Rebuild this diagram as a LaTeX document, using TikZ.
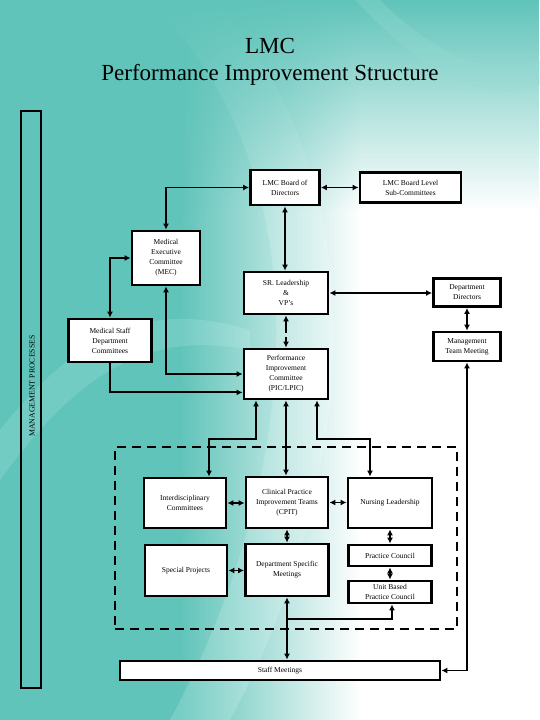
\documentclass[tikz,border=0pt]{standalone}
\usepackage{fontspec}
\setmainfont{Liberation Serif}
\usetikzlibrary{arrows.meta,calc,fadings}
\definecolor{tealbg}{RGB}{96,196,186}
\definecolor{teallight}{RGB}{150,220,212}
\tikzfading[name=fadeleft, left color=transparent!100, right color=transparent!0]
\tikzfading[name=fadedown, top color=transparent!0, bottom color=transparent!100]
\begin{document}
\begin{tikzpicture}[x=1pt,y=-1pt,
  box/.style={draw=black, line width=2.8pt, fill=white, align=center,
    font=\fontsize{7.5}{10}\selectfont, inner sep=1pt},
  con/.style={line width=1.9pt},
  dbl/.style={con, {Latex[length=6pt,width=6pt]}-{Latex[length=6pt,width=6pt]}},
  arr/.style={con, -{Latex[length=6pt,width=6pt]}},
  titlefont/.style={font=\fontsize{23}{27}\selectfont}]
\useasboundingbox (0,0) rectangle (540,720);
% background
\fill[tealbg] (0,0) rectangle (540,720);
\fill[teallight, opacity=0.45] (150,0) .. controls (330,180) and (300,480) .. (170,720) -- (230,720) .. controls (360,480) and (380,180) .. (215,0) -- cycle;
\fill[teallight, opacity=0.35] (0,430) .. controls (80,330) and (150,300) .. (250,330) -- (250,350) .. controls (150,330) and (80,370) .. (0,480) -- cycle;
\fill[teallight, opacity=0.35] (330,0) .. controls (420,120) and (500,140) .. (540,120) -- (540,150) .. controls (480,170) and (400,140) .. (300,0) -- cycle;
\fill[white, path fading=fadeleft] (180,0) rectangle (360,720);
\fill[white] (360,0) rectangle (540,720);
\fill[tealbg, path fading=fadedown] (0,0) rectangle (540,210);
\fill[teallight, opacity=0.3] (380,0) .. controls (440,60) and (500,80) .. (540,60) -- (540,85) .. controls (490,105) and (430,80) .. (355,0) -- cycle;
% title
\node[titlefont] (t1) at (270,46) {LMC};
\node[titlefont] (t2) at (270,75) {Performance Improvement Structure};
% side bar
\node[draw, line width=2.5pt, minimum width=20, minimum height=577, inner sep=0] (bar) at (31,399.5) {};
\node[rotate=90, font=\fontsize{7.8}{9}\selectfont] (mp) at (32,386) {MANAGEMENT PROCESSES};
% dashed group
\node[draw, line width=2.8pt, dash pattern=on 9pt off 6pt, minimum width=342, minimum height=182, inner sep=0] (grp) at (286,538) {};
% boxes
\node[box, minimum width=69, minimum height=35] (lmc) at (285,187.5) {LMC Board of\\Directors};
\node[box, minimum width=101, minimum height=30] (sub) at (410.5,187.5) {LMC Board Level\\Sub-Committees};
\node[box, minimum width=68, minimum height=54] (mec) at (166,258) {Medical\\Executive\\Committee\\(MEC)};
\node[box, minimum width=84, minimum height=42] (sr) at (286,293) {SR. Leadership\\\&\\VP's};
\node[box, minimum width=67, minimum height=28] (dd) at (467,292.5) {Department\\Directors};
\node[box, minimum width=67, minimum height=29] (mgmt) at (467,346.5) {Management\\Team Meeting};
\node[box, minimum width=83, minimum height=43] (msd) at (110,340.5) {Medical Staff\\Department\\Committees};
\node[box, minimum width=84, minimum height=50] (pic) at (286,374) {Performance\\Improvement\\Committee\\(PIC/LPIC)};
\node[box, minimum width=82, minimum height=50] (inter) at (185,503) {Interdisciplinary\\Committees};
\node[box, minimum width=82, minimum height=51] (cpit) at (287,502.5) {Clinical Practice\\Improvement Teams\\(CPIT)};
\node[box, minimum width=84, minimum height=50] (nurs) at (390,503) {Nursing Leadership};
\node[box, minimum width=82, minimum height=51] (spec) at (186,570.5) {Special Projects};
\node[box, minimum width=83, minimum height=52] (dsm) at (287,570) {Department Specific\\Meetings};
\node[box, minimum width=83, minimum height=21] (pc) at (390,555.5) {Practice Council};
\node[box, minimum width=83, minimum height=22] (ub) at (390,592) {Unit Based\\Practice Council};
\node[box, minimum width=320, minimum height=19] (staff) at (280,670.5) {Staff Meetings};
% connectors
\draw[dbl] (lmc.east) -- (lmc.east -| sub.west);
\draw[dbl] (mec.north) |- (lmc.west);
\draw[dbl] (lmc.south) -- (lmc.south |- sr.north);
\draw[dbl] (mec.west) -| (msd.north);
\draw[dbl] (sr.east) -- (sr.east -| dd.west);
\draw[dbl] (dd.south) -- (mgmt.north);
\draw[dbl, dash pattern=on 12pt off 4pt] (sr.south) -- (pic.north);
\draw[dbl] (mec.south) |- (pic.west);
\draw[arr] (msd.south) |- ([yshift=8pt]pic.south west);
\draw[dbl] ([xshift=-30pt]pic.south) -- ++(0,39) -| ([xshift=24pt]inter.north);
\draw[dbl] (pic.south) -- (pic.south |- cpit.north);
\draw[dbl] ([xshift=31pt]pic.south) -- ++(0,39) -| ([xshift=-20pt]nurs.north);
\draw[dbl] (inter.east) -- (inter.east -| cpit.west);
\draw[dbl] (cpit.east) -- (cpit.east -| nurs.west);
\draw[dbl] (cpit.south) -- (dsm.north);
\draw[dbl] (nurs.south) -- (pc.north);
\draw[dbl] (spec.east) -- (spec.east -| dsm.west);
\draw[dbl] (pc.south) -- (ub.north);
\draw[dbl] (dsm.south) -- (dsm.south |- staff.north);
\coordinate (br) at ([yshift=-22pt]dsm.south);
\draw[arr] (br) -| ([xshift=2pt]ub.south);
\draw[dbl] (mgmt.south) |- (staff.east);
\end{tikzpicture}
\end{document}
